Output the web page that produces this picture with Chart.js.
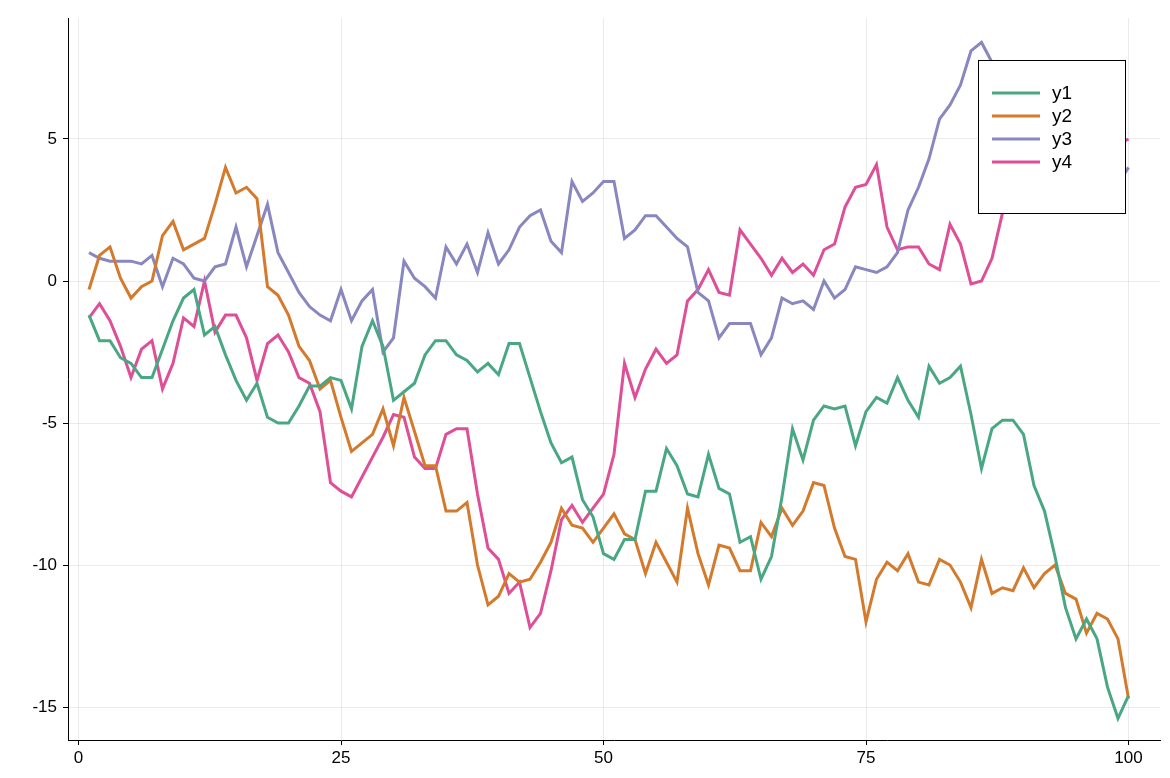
<!DOCTYPE html>
<html><head><meta charset="utf-8">
<script src="https://cdn.jsdelivr.net/npm/chart.js@4/dist/chart.umd.min.js"></script>
<style>html,body{margin:0;padding:0;background:#fff}#w{width:1170px;height:778px}</style>
</head><body><div id="w"><canvas id="c"></canvas></div>
<script>
const xs = Array.from({length:100},(_, i)=>i+1);
const y1 = [-1.2,-2.1,-2.1,-2.7,-2.9,-3.4,-3.4,-2.4,-1.4,-0.6,-0.3,-1.9,-1.6,-2.6,-3.5,-4.2,-3.6,-4.8,-5.0,-5.0,-4.4,-3.7,-3.7,-3.4,-3.5,-4.5,-2.3,-1.4,-2.3,-4.2,-3.9,-3.6,-2.6,-2.1,-2.1,-2.6,-2.8,-3.2,-2.9,-3.3,-2.2,-2.2,-3.4,-4.6,-5.7,-6.4,-6.2,-7.7,-8.3,-9.6,-9.8,-9.1,-9.1,-7.4,-7.4,-5.9,-6.5,-7.5,-7.6,-6.1,-7.3,-7.5,-9.2,-9.0,-10.5,-9.7,-7.6,-5.2,-6.3,-4.9,-4.4,-4.5,-4.4,-5.8,-4.6,-4.1,-4.3,-3.4,-4.2,-4.8,-3.0,-3.6,-3.4,-3.0,-4.7,-6.6,-5.2,-4.9,-4.9,-5.4,-7.2,-8.1,-9.7,-11.5,-12.6,-11.9,-12.6,-14.3,-15.4,-14.6];
const y2 = [-0.3,0.9,1.2,0.1,-0.6,-0.2,0.0,1.6,2.1,1.1,1.3,1.5,2.7,4.0,3.1,3.3,2.9,-0.2,-0.5,-1.2,-2.3,-2.8,-3.8,-3.5,-4.8,-6.0,-5.7,-5.4,-4.5,-5.8,-4.1,-5.3,-6.5,-6.5,-8.1,-8.1,-7.8,-10.0,-11.4,-11.1,-10.3,-10.6,-10.5,-9.9,-9.2,-8.0,-8.6,-8.7,-9.2,-8.7,-8.2,-8.9,-9.1,-10.3,-9.2,-9.9,-10.6,-8.0,-9.6,-10.7,-9.3,-9.4,-10.2,-10.2,-8.5,-9.0,-8.0,-8.6,-8.1,-7.1,-7.2,-8.7,-9.7,-9.8,-12.0,-10.5,-9.9,-10.2,-9.6,-10.6,-10.7,-9.8,-10.0,-10.6,-11.5,-9.8,-11.0,-10.8,-10.9,-10.1,-10.8,-10.3,-10.0,-11.0,-11.2,-12.4,-11.7,-11.9,-12.6,-14.7];
const y3 = [1.0,0.8,0.7,0.7,0.7,0.6,0.9,-0.2,0.8,0.6,0.1,0.0,0.5,0.6,1.9,0.5,1.6,2.7,1.0,0.3,-0.4,-0.9,-1.2,-1.4,-0.3,-1.4,-0.7,-0.3,-2.5,-2.0,0.7,0.1,-0.2,-0.6,1.2,0.6,1.3,0.3,1.7,0.6,1.1,1.9,2.3,2.5,1.4,1.0,3.5,2.8,3.1,3.5,3.5,1.5,1.8,2.3,2.3,1.9,1.5,1.2,-0.4,-0.7,-2.0,-1.5,-1.5,-1.5,-2.6,-2.0,-0.6,-0.8,-0.7,-1.0,0.0,-0.6,-0.3,0.5,0.4,0.3,0.5,1.0,2.5,3.3,4.3,5.7,6.2,6.9,8.1,8.4,7.7,7.0,6.5,6.0,5.2,4.8,4.4,4.5,4.0,3.8,3.5,3.2,3.4,4.0];
const y4 = [-1.3,-0.8,-1.4,-2.3,-3.4,-2.4,-2.1,-3.8,-2.9,-1.3,-1.6,0.0,-1.8,-1.2,-1.2,-2.0,-3.5,-2.2,-1.9,-2.5,-3.4,-3.6,-4.6,-7.1,-7.4,-7.6,-6.9,-6.2,-5.5,-4.7,-4.8,-6.2,-6.6,-6.6,-5.4,-5.2,-5.2,-7.5,-9.4,-9.8,-11.0,-10.6,-12.2,-11.7,-10.2,-8.4,-7.9,-8.5,-8.0,-7.5,-6.1,-2.9,-4.1,-3.1,-2.4,-2.9,-2.6,-0.7,-0.3,0.4,-0.4,-0.5,1.8,1.3,0.8,0.2,0.8,0.3,0.6,0.2,1.1,1.3,2.6,3.3,3.4,4.1,1.9,1.1,1.2,1.2,0.6,0.4,2.0,1.3,-0.1,0.0,0.8,2.4,3.2,3.9,4.3,4.0,4.6,4.4,4.8,4.5,4.9,4.6,4.8,5.0];
const names = ['y1','y2','y3','y4'];
const colors = ['#4aa783','#d47a2c','#8887bf','#de4f98'];
const xTicks = [0,25,50,75,100];
const yTicks = [-15,-10,-5,0,5];
const series = [y1,y2,y3,y4];
const FONT = '"Liberation Sans", Arial, sans-serif';

const legendBox = {
  id:'legendBox',
  afterDatasetsDraw(chart){
    const ctx = chart.ctx;
    const x0=978, y0=60, w=147, h=153;
    ctx.save();
    ctx.fillStyle='#fff'; ctx.fillRect(x0,y0,w,h);
    ctx.strokeStyle='#000'; ctx.lineWidth=1; ctx.strokeRect(x0+0.5,y0+0.5,w,h);
    ctx.font='19px '+FONT; ctx.textBaseline='middle';
    names.forEach((n,i)=>{
      const yy = y0+33+i*23;
      ctx.strokeStyle=colors[i]; ctx.lineWidth=3;
      ctx.beginPath(); ctx.moveTo(x0+14,yy); ctx.lineTo(x0+62,yy); ctx.stroke();
      ctx.fillStyle='#000'; ctx.fillText(n,x0+74,yy+1);
    });
    ctx.restore();
  }
};

new Chart(document.getElementById('c'),{
  type:'line',
  data:{datasets: series.map((s,i)=>({label:names[i],data:s.map((v,j)=>({x:xs[j],y:v})),borderColor:colors[i],borderWidth:3,pointRadius:0,tension:0,fill:false}))},
  options:{
    responsive:true, maintainAspectRatio:false, animation:false,
    layout:{padding:{top:18,right:10,left:0,bottom:0}},
    plugins:{legend:{display:false},tooltip:{enabled:false}},
    scales:{
      x:{type:'linear',min:-1,max:103,
        afterBuildTicks(a){a.ticks=xTicks.map(v=>({value:v}));},
        afterFit(a){a.height=38;},
        grid:{color:'rgba(0,0,0,0.08)',drawTicks:true,tickLength:5,tickColor:'#000'},
        border:{color:'#000',width:1},
        ticks:{color:'#000',font:{size:17,family:FONT},maxRotation:0,padding:3}},
      y:{min:-16.16,max:9.26,
        afterBuildTicks(a){a.ticks=yTicks.map(v=>({value:v}));},
        afterFit(a){a.width=68;},
        grid:{color:'rgba(0,0,0,0.08)',drawTicks:true,tickLength:5,tickColor:'#000'},
        border:{color:'#000',width:1},
        ticks:{color:'#000',font:{size:17,family:FONT},padding:6}}
    }
  },
  plugins:[legendBox]
});
</script></body></html>
